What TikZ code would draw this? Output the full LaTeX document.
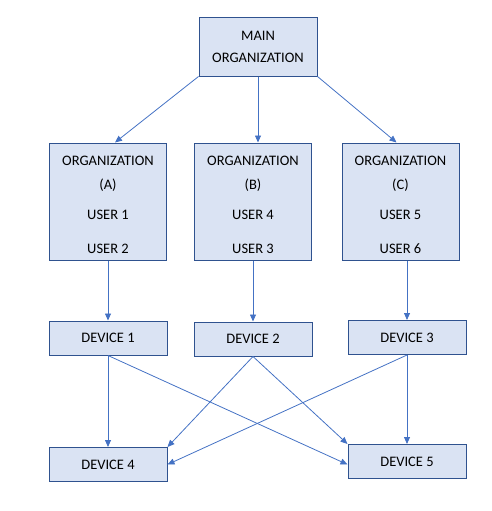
\documentclass[tikz,border=0pt]{standalone}
\usepackage{fontspec}
\setmainfont{Carlito}
\usetikzlibrary{arrows.meta}
\definecolor{boxfill}{HTML}{DAE3F3}
\definecolor{boxline}{HTML}{2F528F}
\definecolor{arrowblue}{HTML}{4472C4}
\newcommand{\topstrut}{\rule{0pt}{16pt}}
\begin{document}
\begin{tikzpicture}[x=1pt, y=-1pt,
    every node/.style={font=\fontsize{14.5}{24}\selectfont},
    box/.style={draw=boxline, fill=boxfill, line width=1pt,
                inner sep=0pt, align=center},
    orgbox/.style={box, minimum width=117pt, minimum height=117pt},
    devbox/.style={box, minimum width=118pt, minimum height=34pt},
    link/.style={draw=arrowblue, line width=0.8pt,
                 -{Triangle[length=7pt,width=6pt]}}]
    \useasboundingbox (0,0) rectangle (492,511);
    \node[box, minimum width=118pt, minimum height=58pt,
          font=\fontsize{14.5}{22}\selectfont] (main) at (258,47)
          {MAIN\\ORGANIZATION};
    \node[orgbox] (orgA) at (108,201.5)
          {\topstrut ORGANIZATION\\(A)\\[6pt]USER 1\\[10pt]USER 2};
    \node[orgbox] (orgB) at (253,201.5)
          {\topstrut ORGANIZATION\\(B)\\[6pt]USER 4\\[10pt]USER 3};
    \node[orgbox] (orgC) at (400.5,201.5)
          {\topstrut ORGANIZATION\\(C)\\[6pt]USER 5\\[10pt]USER 6};
    \node[devbox] (dev1) at (108,338) {DEVICE 1};
    \node[devbox] (dev2) at (253,339) {DEVICE 2};
    \node[devbox] (dev3) at (407,337.5) {DEVICE 3};
    \node[devbox] (dev4) at (108,464.5) {DEVICE 4};
    \node[devbox] (dev5) at (407,461.5) {DEVICE 5};
    % main to organizations
    \draw[link] (main.south west) -- ([xshift=7pt]orgA.north);
    \draw[link] (main.south) -- (main.south |- orgB.north);
    \draw[link] (main.south east) -- ([xshift=-4pt]orgC.north);
    % organizations to devices
    \draw[link] (orgA.south) -- (dev1.north);
    \draw[link] (orgB.south) -- (dev2.north);
    \draw[link] (dev3.north |- orgC.south) -- (dev3.north);
    % devices to devices
    \draw[link] (dev1.south) -- (dev4.north);
    \draw[link] (dev1.south) -- ([yshift=-3pt]dev5.west);
    \draw[link] (dev2.south) -- (dev4.north east);
    \draw[link] (dev2.south) -- (dev5.north west);
    \draw[link] (dev3.south) -- (dev4.east);
    \draw[link] (dev3.south) -- (dev5.north);
\end{tikzpicture}
\end{document}
